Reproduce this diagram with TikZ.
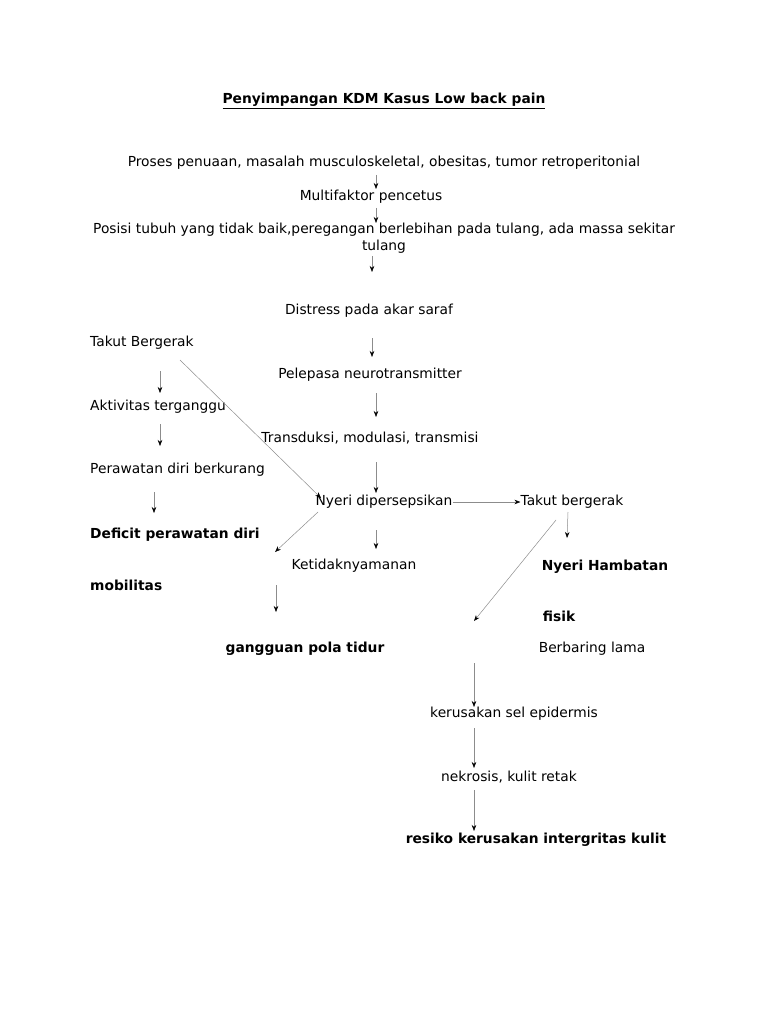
\documentclass[tikz,border=0pt]{standalone}
\usepackage{fontspec}
\setmainfont{DejaVu Sans}
\usetikzlibrary{arrows.meta}
\begin{document}
\begin{tikzpicture}[x=1pt,y=-1pt,
  txt/.style={inner sep=0pt,font=\fontsize{13.8}{17}\selectfont},
  lft/.style={txt,anchor=west},
  bld/.style={font=\fontsize{13.8}{17}\selectfont\bfseries},
  arr/.style={draw=black!45,line width=0.5pt,-{Stealth[length=6pt,width=4.5pt,black]}}]
\useasboundingbox (0,0) rectangle (768,1024);
\node[txt,font=\fontsize{13.8}{17}\selectfont\bfseries] (title) at (384,101) {\underline{Penyimpangan KDM Kasus Low back pain}};
\node[txt] (proses) at (384,163) {Proses penuaan, masalah musculoskeletal, obesitas, tumor retroperitonial};
\node[txt] (multi) at (371,197) {Multifaktor pencetus};
\node[txt,align=center] (posisi) at (384,238) {Posisi tubuh yang tidak baik,peregangan berlebihan pada tulang, ada massa sekitar\\tulang};
\node[txt] (distress) at (369,311) {Distress pada akar saraf};
\node[lft] (takut1) at (90,343) {Takut Bergerak};
\node[txt] (pelepasa) at (370,375) {Pelepasa neurotransmitter};
\node[lft] (aktiv) at (90,407) {Aktivitas terganggu};
\node[txt] (trans) at (370,438) {Transduksi, modulasi, transmisi};
\node[lft] (perawatan) at (90,470) {Perawatan diri berkurang};
\node[txt] (nyeri) at (384,502) {Nyeri dipersepsikan};
\node[txt] (takut2) at (572,502) {Takut bergerak};
\node[lft,bld] (deficit) at (90,535) {Deficit perawatan diri};
\node[txt] (ketidak) at (354,566) {Ketidaknyamanan};
\node[txt,bld] (hambatan) at (605,567) {Nyeri Hambatan};
\node[lft,bld] (mobil) at (90,585) {mobilitas};
\node[txt,bld] (fisik) at (559,616) {fisik};
\node[txt,bld] (gangguan) at (305,649) {gangguan pola tidur};
\node[txt] (berbaring) at (592,649) {Berbaring lama};
\node[txt] (kerusakan) at (514,714) {kerusakan sel epidermis};
\node[txt] (nekrosis) at (509,777) {nekrosis, kulit retak};
\node[txt,bld] (resiko) at (536,840) {resiko kerusakan intergritas kulit};
\foreach \n/\x/\a/\b in {a1/376/175/189, a2/376/208/223, a3/372/256/272, a4/372/338/357, a5/376/393/417, a6/376/462/493, a7/376/530/549, b1/160/371/393, b2/160/424/446, b3/154/492/513, c1/276/585/612, d1/474/663/707, d2/474/728/768, d3/474/790/831} {
  \coordinate (\n s) at (\x,\a); \coordinate (\n e) at (\x,\b);
  \draw[arr] (\n s) -- (\n e);}
\coordinate (e1s) at (180,360); \coordinate (e1e) at (321,498);
\draw[arr] (e1s) -- (e1e);
\coordinate (e2s) at (318,512); \coordinate (e2e) at (275,552);
\draw[arr] (e2s) -- (e2e);
\draw[arr] (nyeri.east) -- (takut2.west);
\coordinate (f1s) at (568,512); \coordinate (f1e) at (567,538);
\draw[arr] (f1s) -- (f1e);
\coordinate (f2s) at (556,520); \coordinate (f2e) at (474,621);
\draw[arr] (f2s) -- (f2e);
\end{tikzpicture}
\end{document}
